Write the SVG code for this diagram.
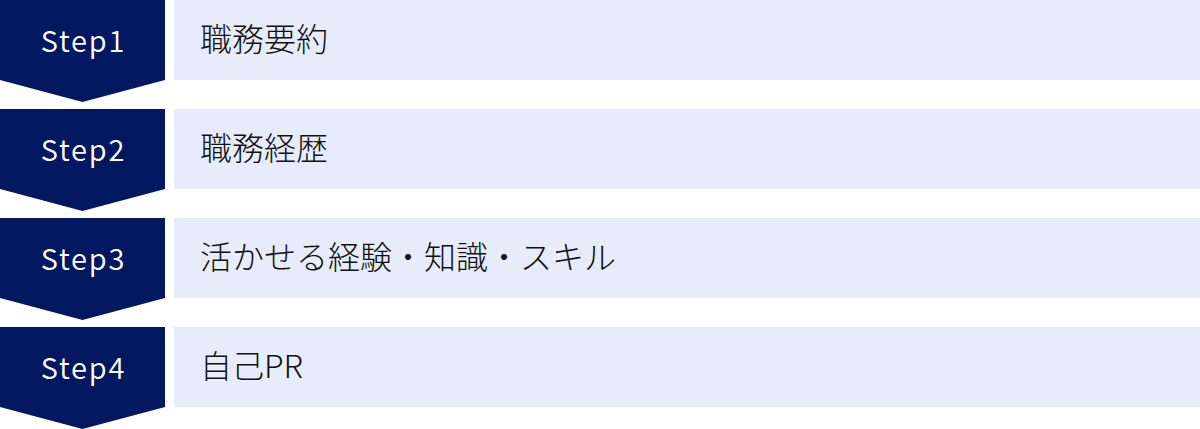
<svg xmlns="http://www.w3.org/2000/svg" width="1200" height="429" viewBox="0 0 1200 429">
<style>
.chev{fill:#041862}
.box{fill:#e6ecf9}
.step{font-family:"Noto Sans CJK JP","Noto Sans",sans-serif;font-size:29px;font-weight:350;fill:#ffffff;text-anchor:middle;letter-spacing:1.8px}
.lbl{font-family:"Noto Sans CJK JP",sans-serif;font-size:32px;font-weight:300;fill:#111111}
</style>
<defs>
<path id="chevShape" d="M0 0H165V80L82.5 102L0 80Z"/>
</defs>
<rect width="1200" height="429" fill="#ffffff"/>
<g id="connectors"></g>
<g id="step1" transform="translate(0,0)">
<use href="#chevShape" class="chev"/>
<text class="step" x="83.5" y="52">Step1</text>
<rect class="box" x="174" y="0" width="1026" height="80"/>
<text class="lbl" x="200" y="51">職務要約</text>
</g>
<g id="step2" transform="translate(0,109)">
<use href="#chevShape" class="chev"/>
<text class="step" x="83.5" y="52">Step2</text>
<rect class="box" x="174" y="0" width="1026" height="80"/>
<text class="lbl" x="200" y="51">職務経歴</text>
</g>
<g id="step3" transform="translate(0,218)">
<use href="#chevShape" class="chev"/>
<text class="step" x="83.5" y="52">Step3</text>
<rect class="box" x="174" y="0" width="1026" height="80"/>
<text class="lbl" x="200" y="51">活かせる経験・知識・スキル</text>
</g>
<g id="step4" transform="translate(0,327)">
<use href="#chevShape" class="chev"/>
<text class="step" x="83.5" y="52">Step4</text>
<rect class="box" x="174" y="0" width="1026" height="80"/>
<text class="lbl" x="200" y="51">自己PR</text>
</g>
</svg>
